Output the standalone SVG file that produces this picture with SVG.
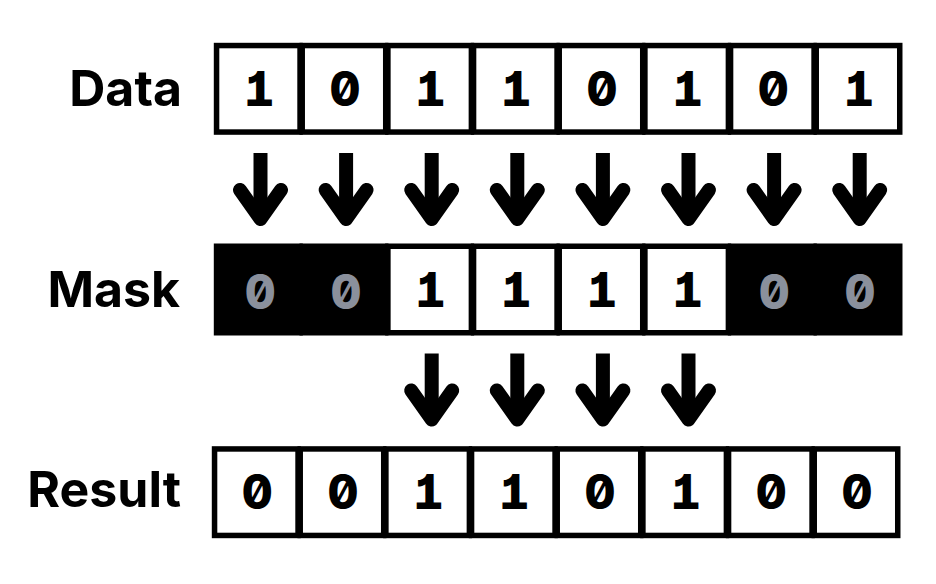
<svg xmlns="http://www.w3.org/2000/svg" xmlns:xlink="http://www.w3.org/1999/xlink" width="936" height="584" viewBox="0 0 936 584">
<style>
.lbl{font-family:Inter,"Liberation Sans",Arial,sans-serif;font-weight:700;font-size:50px;fill:#000;text-anchor:end}
.cell{fill:#fff;stroke:#000;stroke-width:5.5}
.off{fill:#000;stroke:#000;stroke-width:5.5}
.d{font-family:Inter,"DejaVu Sans Mono",monospace;font-weight:800;font-size:48px;fill:#000;text-anchor:middle;font-feature-settings:"zero" 1,"cv01" 1,"tnum" 1}
.g{fill:#8a909c}
.arw{fill:none;stroke:#000;stroke-width:14;stroke-linecap:round;stroke-linejoin:round}
.shaft{fill:none;stroke:#000;stroke-width:14;stroke-linecap:butt}
</style>
<defs>
<g id="arrow">
<line class="shaft" x1="0" y1="0" x2="0" y2="60"/>
<polyline class="arw" points="-20.5,37 0,66 20.5,37"/>
</g>
</defs>
<rect width="936" height="584" fill="#fff"/>
<g id="labels">
<text class="lbl" x="182" y="106">Data</text>
<text class="lbl" x="180" y="306.7">Mask</text>
<text class="lbl" x="181" y="506.7">Result</text>
</g>
<g id="data-row">
<g id="data-1"><rect class="cell" x="216.55" y="45.55" width="83.5" height="86.5"/><text class="d" x="259.3" y="106">1</text></g>
<g id="data-2"><rect class="cell" x="302.22" y="45.55" width="83.5" height="86.5"/><text class="d" x="345" y="106">0</text></g>
<g id="data-3"><rect class="cell" x="387.89" y="45.55" width="83.5" height="86.5"/><text class="d" x="430.6" y="106">1</text></g>
<g id="data-4"><rect class="cell" x="473.56" y="45.55" width="83.5" height="86.5"/><text class="d" x="516.3" y="106">1</text></g>
<g id="data-5"><rect class="cell" x="559.23" y="45.55" width="83.5" height="86.5"/><text class="d" x="602" y="106">0</text></g>
<g id="data-6"><rect class="cell" x="644.9" y="45.55" width="83.5" height="86.5"/><text class="d" x="687.7" y="106">1</text></g>
<g id="data-7"><rect class="cell" x="730.57" y="45.55" width="83.5" height="86.5"/><text class="d" x="773.3" y="106">0</text></g>
<g id="data-8"><rect class="cell" x="816.24" y="45.55" width="83.5" height="86.5"/><text class="d" x="859" y="106">1</text></g>
</g>
<g id="mask-row">
<g id="mask-1"><rect class="off" x="216.55" y="246.25" width="83.5" height="86.5"/><text class="d g" x="260.3" y="309">0</text></g>
<g id="mask-2"><rect class="off" x="302.22" y="246.25" width="83.5" height="86.5"/><text class="d g" x="346" y="309">0</text></g>
<g id="mask-7"><rect class="off" x="730.57" y="246.25" width="83.5" height="86.5"/><text class="d g" x="774.3" y="309">0</text></g>
<g id="mask-8"><rect class="off" x="816.24" y="246.25" width="83.5" height="86.5"/><text class="d g" x="860" y="309">0</text></g>
<g id="mask-3"><rect class="cell" x="387.89" y="246.25" width="83.5" height="86.5"/><text class="d" x="430.6" y="307">1</text></g>
<g id="mask-4"><rect class="cell" x="473.56" y="246.25" width="83.5" height="86.5"/><text class="d" x="516.3" y="307">1</text></g>
<g id="mask-5"><rect class="cell" x="559.23" y="246.25" width="83.5" height="86.5"/><text class="d" x="602" y="307">1</text></g>
<g id="mask-6"><rect class="cell" x="644.9" y="246.25" width="83.5" height="86.5"/><text class="d" x="687.7" y="307">1</text></g>
</g>
<g id="result-row">
<g id="result-1"><rect class="cell" x="214.55" y="448.95" width="83.5" height="86.5"/><text class="d" x="257.3" y="509">0</text></g>
<g id="result-2"><rect class="cell" x="300.22" y="448.95" width="83.5" height="86.5"/><text class="d" x="343" y="509">0</text></g>
<g id="result-3"><rect class="cell" x="385.89" y="448.95" width="83.5" height="86.5"/><text class="d" x="428.6" y="509">1</text></g>
<g id="result-4"><rect class="cell" x="471.56" y="448.95" width="83.5" height="86.5"/><text class="d" x="514.3" y="509">1</text></g>
<g id="result-5"><rect class="cell" x="557.23" y="448.95" width="83.5" height="86.5"/><text class="d" x="600" y="509">0</text></g>
<g id="result-6"><rect class="cell" x="642.9" y="448.95" width="83.5" height="86.5"/><text class="d" x="685.7" y="509">1</text></g>
<g id="result-7"><rect class="cell" x="728.57" y="448.95" width="83.5" height="86.5"/><text class="d" x="771.3" y="509">0</text></g>
<g id="result-8"><rect class="cell" x="814.24" y="448.95" width="83.5" height="86.5"/><text class="d" x="857" y="509">0</text></g>
</g>
<g id="connectors">
<use xlink:href="#arrow" transform="translate(260.5,153)"/>
<use xlink:href="#arrow" transform="translate(346.1,153)"/>
<use xlink:href="#arrow" transform="translate(431.7,153)"/>
<use xlink:href="#arrow" transform="translate(517.3,153)"/>
<use xlink:href="#arrow" transform="translate(602.9,153)"/>
<use xlink:href="#arrow" transform="translate(688.5,153)"/>
<use xlink:href="#arrow" transform="translate(774.1,153)"/>
<use xlink:href="#arrow" transform="translate(859.7,153)"/>
<use xlink:href="#arrow" transform="translate(431.7,353.5)"/>
<use xlink:href="#arrow" transform="translate(517.3,353.5)"/>
<use xlink:href="#arrow" transform="translate(602.9,353.5)"/>
<use xlink:href="#arrow" transform="translate(688.5,353.5)"/>
</g>
</svg>
